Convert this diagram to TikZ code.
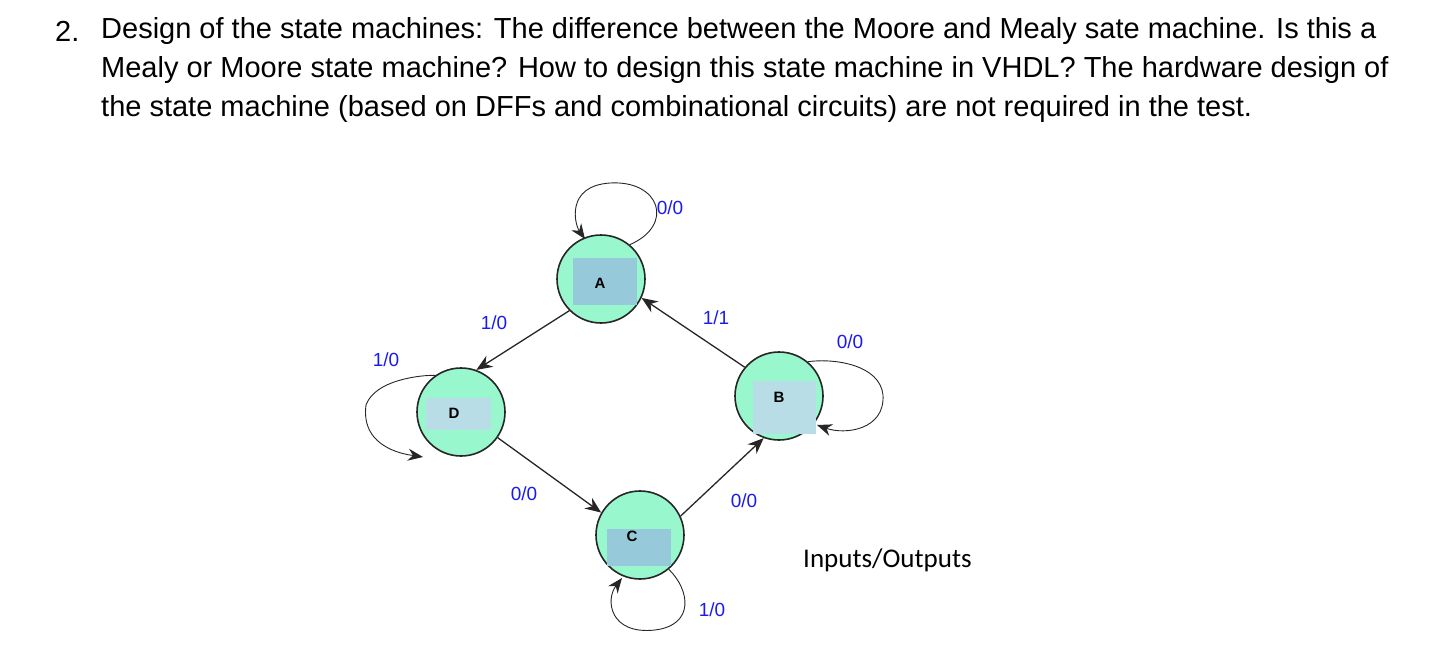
\documentclass[tikz,border=0pt]{standalone}
\usepackage{fontspec}
\setmainfont{Liberation Sans}
\newfontfamily\calib{Carlito}
\usetikzlibrary{arrows.meta}
\definecolor{stfill}{HTML}{99F7CD}
\definecolor{rdark}{HTML}{96CADB}
\definecolor{rlight}{HTML}{B8DDE6}
\definecolor{lblue}{HTML}{1A1AF0}
\begin{document}
\begin{tikzpicture}[x=1pt,y=-1pt,
  st/.style={circle,draw=black!85,line width=1.6pt,fill=stfill,minimum size=88pt,inner sep=0pt},
  lab/.style={text=lblue,font=\fontsize{19}{22}\selectfont},
  tr/.style={draw=black!85,line width=1.3pt,-{Stealth[length=16pt,width=13pt]}},
  lp/.style={draw=black!85,line width=0.9pt,-{Stealth[length=15pt,width=12pt]}},
  stl/.style={font=\bfseries\fontsize{15}{17}\selectfont},
  head/.style={anchor=west,font=\fontsize{29}{34}\selectfont,inner sep=0pt}]
\useasboundingbox (0,0) rectangle (1447,666);
\node[head] (n2) at (55,31) {2.};
\node[head] (h1) at (101,31) {Design of the state machines: The difference between the Moore and Mealy sate machine. Is this a};
\node[head] (h2) at (101,70) {Mealy or Moore state machine? How to design this state machine in VHDL? The hardware design of};
\node[head] (h3) at (101,109) {the state machine (based on DFFs and combinational circuits) are not required in the test.};

\node[st] (A) at (601,279) {};
\node[st] (D) at (461,412) {};
\node[st] (B) at (779,396) {};
\node[st] (C) at (640,535) {};
\fill[rdark] (573,258) rectangle (637,305);
\fill[rlight] (426,398) rectangle (491,430);
\fill[rlight] (753,381) rectangle (816,434);
\fill[rdark] (607,529) rectangle (671,566);
\node[stl] (tA) at (600,283) {A};
\node[stl] (tD) at (454,413) {D};
\node[stl] (tB) at (779,397) {B};
\node[stl] (tC) at (632,536) {C};

\draw[tr] (A.225) -- (D.70);
\draw[tr] (B.140) -- (A.-25);
\draw[tr] (D.-35) -- (C.150);
\draw[tr] (C.25) -- (B.-110);

\draw[lp] (A.50) .. controls (675,225) and (660,180) .. (610,183) .. controls (565,186) and (575,225) .. (585,239);
\draw[lp] (D.125) .. controls (420,375) and (375,380) .. (366,405) .. controls (360,450) and (410,455) .. (423,457);
\draw[lp] (B.50) .. controls (835,358) and (880,365) .. (883,395) .. controls (885,430) and (845,435) .. (817,425);
\draw[lp] (C.-50) .. controls (690,590) and (695,625) .. (655,630) .. controls (610,635) and (605,600) .. (622,578);

\node[lab] (l1) at (670,208) {0/0};
\node[lab] (l2) at (494,323) {1/0};
\node[lab] (l3) at (716,318) {1/1};
\node[lab] (l4) at (850,342) {0/0};
\node[lab] (l5) at (386,360) {1/0};
\node[lab] (l6) at (524,494) {0/0};
\node[lab] (l7) at (744,501) {0/0};
\node[lab] (l8) at (712,610) {1/0};
\node[font=\calib\fontsize{27}{32}\selectfont,anchor=west,inner sep=0pt] (io) at (803,560) {Inputs/Outputs};
\end{tikzpicture}
\end{document}
